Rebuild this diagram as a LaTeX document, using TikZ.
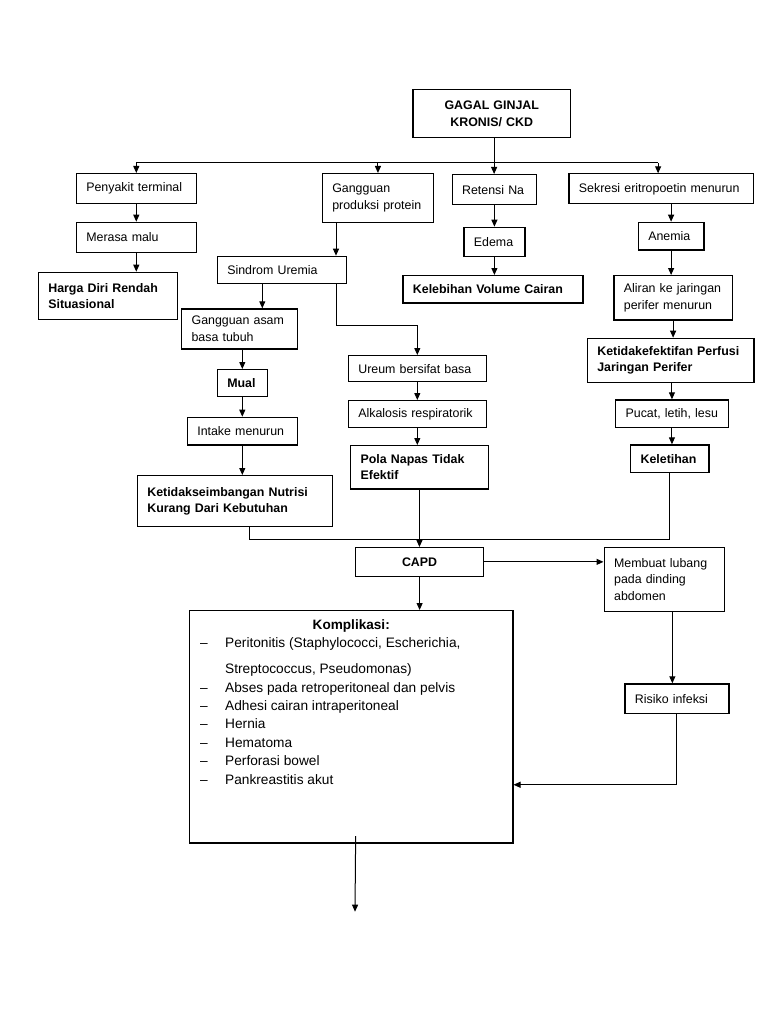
\documentclass[tikz,border=0pt]{standalone}
\usepackage{fontspec}
\setmainfont{Liberation Sans}
\usetikzlibrary{arrows.meta,calc}
\tikzset{
  bx/.style={draw=black, line width=1.2pt, inner xsep=10pt, inner ysep=1pt, align=left,
    anchor=north west, font=\fontsize{12.4pt}{16.5pt}\selectfont},
  bb/.style={bx, font=\fontsize{12.4pt}{16.5pt}\selectfont\bfseries},
  cn/.style={line width=1pt, draw=black},
  arr/.style={cn, -{Triangle[length=7pt,width=6pt]}},
}
\begin{document}
\begin{tikzpicture}[x=1pt,y=-1pt]
\path[use as bounding box, fill=white] (0,0) rectangle (768,1024);

% boxes
\node[bb, align=center, text width=137.7pt, minimum height=47.4pt] (gagal) at (412.3,89.3) {GAGAL GINJAL\\KRONIS/ CKD};
\node[bx, text width=100pt, minimum height=30pt] (peny) at (75.7,173) {Penyakit terminal};
\node[bx, text width=91.3pt, minimum height=48.7pt] (ggprot) at (321.7,173) {Gangguan\\produksi protein};
\node[bx, text width=64pt, minimum height=30pt] (retensi) at (451.5,174) {Retensi Na};
\node[bx, text width=164.4pt, minimum height=30pt] (sekresi) at (568.3,173.3) {Sekresi eritropoetin menurun};
\node[bx, text width=100pt, minimum height=30.3pt] (malu) at (75.7,221.7) {Merasa malu};
\node[bx, text width=41pt, minimum height=29pt] (edema) at (463.3,226.7) {Edema};
\node[bx, text width=45.6pt, minimum height=27.6pt] (anemia) at (637.7,221.7) {Anemia};
\node[bb, text width=119pt, minimum height=47.3pt] (harga) at (37.7,271.7) {Harga Diri Rendah\\Situasional};
\node[bx, text width=109pt, minimum height=27pt] (sindrom) at (216.7,255.7) {Sindrom Uremia};
\node[bb, text width=160pt, minimum height=27.3pt] (kelebihan) at (402.3,275) {Kelebihan Volume Cairan};
\node[bx, text width=98.4pt, minimum height=44.3pt] (aliran) at (613.3,275) {Aliran ke jaringan\\perifer menurun};
\node[bx, text width=96pt, minimum height=40pt] (ggasam) at (181,308.3) {Gangguan asam\\basa tubuh};
\node[bx, text width=118pt, minimum height=26pt] (ureum) at (347.7,355) {Ureum bersifat basa};
\node[bb, text width=146.6pt, minimum height=44pt] (ketperf) at (586.7,337.7) {Ketidakefektifan Perfusi\\Jaringan Perifer};
\node[bb, text width=30pt, minimum height=26.7pt] (mual) at (216.7,369) {Mual};
\node[bx, text width=118pt, minimum height=26.7pt] (alkalosis) at (347.7,400) {Alkalosis respiratorik};
\node[bx, text width=92.7pt, minimum height=27.4pt] (pucat) at (615,399.3) {Pucat, letih, lesu};
\node[bx, text width=90pt, minimum height=27.6pt] (intake) at (186.7,416.7) {Intake menurun};
\node[bb, text width=117.7pt, minimum height=43.3pt] (pola) at (350,445) {Pola Napas Tidak\\Efektif};
\node[bb, text width=58.3pt, minimum height=27.4pt] (keletihan) at (630,444.3) {Keletihan};
\node[bb, text width=175pt, minimum height=51pt] (ketnut) at (136.7,475) {Ketidakseimbangan Nutrisi\\Kurang Dari Kebutuhan};
\node[bb, align=center, text width=108pt, minimum height=28.5pt] (capd) at (355,547) {CAPD};
\node[bx, text width=100.5pt, minimum height=63.7pt] (membuat) at (603.5,547) {Membuat lubang\\pada dinding\\abdomen};
\node[bx, text width=84pt, minimum height=29.4pt] (risiko) at (624.3,683.3) {Risiko infeksi};
\node[draw=black, line width=1.2pt, inner sep=0pt, minimum width=323.3pt, minimum height=232.3pt, anchor=north west] (komp) at (189,610) {};
\node[anchor=base, inner sep=0pt, font=\fontsize{13.6pt}{16pt}\selectfont\bfseries] (kt) at ([yshift=-19.5pt]komp.north) {Komplikasi:};
\node[anchor=base west, align=left, inner sep=0pt, font=\fontsize{13.7pt}{18.4pt}\selectfont] (kl) at ([xshift=11pt,yshift=-174pt]komp.north west)
 {\makebox[25pt][l]{\textendash}Peritonitis (Staphylococci, Escherichia,\\[7.6pt]
  \hspace*{25pt}Streptococcus, Pseudomonas)\\
  \makebox[25pt][l]{\textendash}Abses pada retroperitoneal dan pelvis\\
  \makebox[25pt][l]{\textendash}Adhesi cairan intraperitoneal\\
  \makebox[25pt][l]{\textendash}Hernia\\
  \makebox[25pt][l]{\textendash}Hematoma\\
  \makebox[25pt][l]{\textendash}Perforasi bowel\\
  \makebox[25pt][l]{\textendash}Pankreastitis akut};

% helper coordinates
\coordinate (hub) at (0,163);
\coordinate (bend) at (0,325);
\coordinate (jl) at (0,539);
\coordinate (s1) at ([xshift=22.7pt]ggasam.north);
\coordinate (s2) at ([xshift=14.3pt]ggprot.south west);
\coordinate (s3) at ([xshift=15pt]ketnut.south);
\coordinate (s4) at ([xshift=8pt]membuat.south);
\coordinate (s5) at ([yshift=-58pt]komp.east);
\coordinate (s6) at ([xshift=4.4pt,yshift=7.3pt]komp.south);
\coordinate (endp) at (355,911.7);
\coordinate (sk) at ([xshift=-3pt]sekresi.north);

% top distribution
\draw[arr] (gagal.south -| retensi.north) -- (retensi.north);
\draw[cn] (peny.north |- hub) -- (sk |- hub);
\draw[arr] (peny.north |- hub) -- (peny.north);
\draw[arr] (ggprot.north |- hub) -- (ggprot.north);
\draw[arr] (sk |- hub) -- (sk);

% left column
\draw[arr] (peny.south) -- (malu.north);
\draw[arr] (malu.south) -- (malu.south |- harga.north);

% protein column
\draw[arr] (s2) -- (s2 |- sindrom.north);
\draw[arr] (s2 |- sindrom.south) -- (s2 |- bend) -| (ureum.north);
\draw[arr] (s1 |- sindrom.south) -- (s1);
\draw[arr] (mual.north |- ggasam.south) -- (mual.north);
\draw[arr] (mual.south) -- (mual.south |- intake.north);
\draw[arr] (intake.south) -- (intake.south |- ketnut.north);
\draw[arr] (ureum.south) -- (ureum.south |- alkalosis.north);
\draw[arr] (alkalosis.south) -- (alkalosis.south |- pola.north);

% retensi column
\draw[arr] (edema.north |- retensi.south) -- (edema.north);
\draw[arr] (edema.south) -- (edema.south |- kelebihan.north);

% right column
\draw[arr] (anemia.north |- sekresi.south) -- (anemia.north);
\draw[arr] (anemia.south) -- (anemia.south |- aliran.north);
\draw[arr] (aliran.south) -- (aliran.south |- ketperf.north);
\draw[arr] (pucat.north |- ketperf.south) -- (pucat.north);
\draw[arr] (pucat.south) -- (pucat.south |- keletihan.north);

% join into CAPD
\draw[cn] (s3) -- (s3 |- jl) -- (keletihan.south |- jl) -- (keletihan.south);
\draw[arr] (pola.south) -- (pola.south |- capd.north);

% CAPD outputs
\draw[arr] (capd.east) -- (capd.east -| membuat.west);
\draw[arr] (capd.south) -- (capd.south |- komp.north);
\draw[arr] (s4) -- (s4 |- risiko.north);
\draw[arr] (risiko.south) |- (s5);
\draw[arr] (s6) -- (endp);
\end{tikzpicture}
\end{document}
